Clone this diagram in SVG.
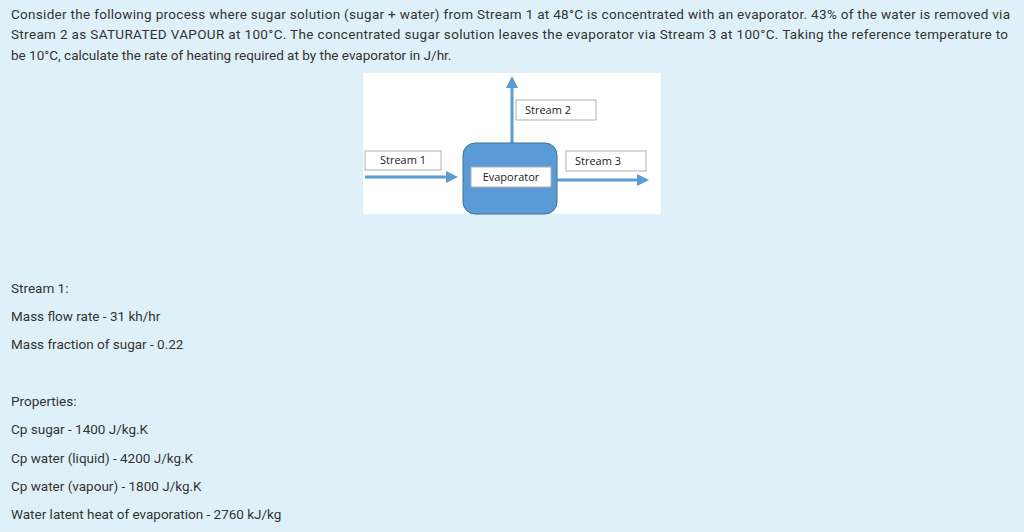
<svg xmlns="http://www.w3.org/2000/svg" width="1024" height="532" viewBox="0 0 1024 532">
<style>
.t{font-family:Roboto,"Liberation Sans",sans-serif;font-size:13.5px;fill:#333}
.s{font-family:"Open Sans","Liberation Sans",sans-serif;font-size:11px;fill:#222}
.lb{fill:#fff;stroke:#b0b0b0;stroke-width:1}
.c{stroke:#5b9bd5;stroke-width:3;fill:none}
</style>
<defs><marker id="a" markerWidth="4" markerHeight="4" refX="2" refY="2" orient="auto" markerUnits="strokeWidth"><path d="M0,0 L4,2 L0,4 z" fill="#5b9bd5"/></marker></defs>
<rect width="1024" height="532" fill="#dff1f8"/>
<text class="t" x="11" y="19" textLength="999">Consider the following process where sugar solution (sugar + water) from Stream 1 at 48°C is concentrated with an evaporator.  43% of the water is removed via</text>
<text class="t" x="11" y="39" textLength="997">Stream 2 as SATURATED VAPOUR at 100°C.  The concentrated sugar solution leaves the evaporator via Stream 3 at 100°C. Taking the reference temperature to</text>
<text class="t" x="11" y="60">be 10°C, calculate the rate of heating required at by the evaporator in J/hr.</text>
<rect x="363" y="73" width="298" height="141" fill="#fff"/>
<g id="connectors">
<line class="c" x1="365" y1="177" x2="452" y2="177" marker-end="url(#a)"/>
<line class="c" x1="512" y1="143" x2="512" y2="82" marker-end="url(#a)"/>
<line class="c" x1="557" y1="180" x2="643" y2="180" marker-end="url(#a)"/>
</g>
<g id="evaporator"><rect x="463" y="143" width="94" height="71" rx="12" fill="#5b9bd5" stroke="#41719c"/>
<rect class="lb" x="471" y="167" width="80" height="20"/><text class="s" x="511" y="181" text-anchor="middle">Evaporator</text></g>
<g id="stream1"><rect class="lb" x="365" y="151" width="76" height="19"/><text class="s" x="403" y="164" text-anchor="middle">Stream 1</text></g>
<g id="stream2"><rect class="lb" x="516" y="100" width="80" height="20"/><text class="s" x="548" y="114" text-anchor="middle">Stream 2</text></g>
<g id="stream3"><rect class="lb" x="566" y="151" width="80" height="20"/><text class="s" x="598" y="165" text-anchor="middle">Stream 3</text></g>
<text class="t" x="11" y="293">Stream 1:</text>
<text class="t" x="11" y="321">Mass flow rate - 31 kh/hr</text>
<text class="t" x="11" y="349">Mass fraction of sugar - 0.22</text>
<text class="t" x="11" y="406">Properties:</text>
<text class="t" x="11" y="434">Cp sugar - 1400 J/kg.K</text>
<text class="t" x="11" y="463">Cp water (liquid) - 4200 J/kg.K</text>
<text class="t" x="11" y="491">Cp water (vapour) - 1800 J/kg.K</text>
<text class="t" x="11" y="519">Water latent heat of evaporation - 2760 kJ/kg</text>
</svg>
